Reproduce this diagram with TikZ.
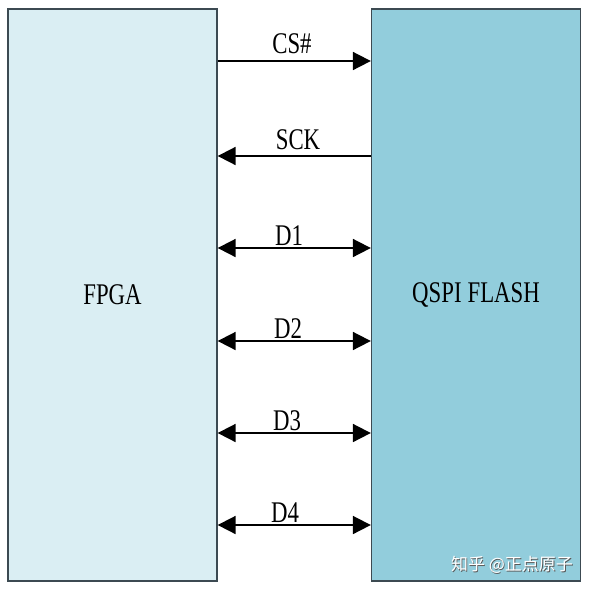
\documentclass[tikz,border=0pt]{standalone}
\usepackage{fontspec}
\setmainfont{Liberation Serif}[FakeStretch=0.76]
\newfontfamily\cjk{Noto Sans CJK SC}
\usetikzlibrary{arrows.meta}
\definecolor{fpgafill}{HTML}{DAEEF3}
\definecolor{flashfill}{HTML}{92CDDC}
\definecolor{edgecol}{HTML}{3C4A52}
\tikzset{
  chip/.style={draw=edgecol, line width=1.3pt, minimum width=209pt, minimum height=572pt, inner sep=0pt, font=\fontsize{30}{32}\selectfont},
  sig/.style={line width=1.8pt, black, >={Triangle[length=18pt,width=18pt]}},
  lbl/.style={anchor=base, inner sep=0pt, font=\fontsize{30}{32}\selectfont}
}
\begin{document}
\begin{tikzpicture}[x=1pt,y=-1pt]
\fill[white] (0,0) rectangle (591,590);
\useasboundingbox (0,0) rectangle (591,590);
\node[chip, fill=fpgafill] (fpga) at (112.5,295) {FPGA};
\node[chip, fill=flashfill] (qspi) at (476,295) {QSPI\hspace{6pt}FLASH};
\coordinate (y1) at (0,61);
\coordinate (y2) at (0,156);
\coordinate (y3) at (0,248);
\coordinate (y4) at (0,341);
\coordinate (y5) at (0,433);
\coordinate (y6) at (0,525);
\draw[sig,->] (fpga.east |- y1) -- (qspi.west |- y1);
\draw[sig,<-] (fpga.east |- y2) -- (qspi.west |- y2);
\draw[sig,<->] (fpga.east |- y3) -- (qspi.west |- y3);
\draw[sig,<->] (fpga.east |- y4) -- (qspi.west |- y4);
\draw[sig,<->] (fpga.east |- y5) -- (qspi.west |- y5);
\draw[sig,<->] (fpga.east |- y6) -- (qspi.west |- y6);
\node[lbl] (l1) at (292,53) {CS\#};
\node[lbl] (l2) at (298,149) {SCK};
\node[lbl] (l3) at (289,245) {D1};
\node[lbl] (l4) at (288,338) {D2};
\node[lbl] (l5) at (287,430) {D3};
\node[lbl] (l6) at (285,522) {D4};
\node[text=gray!70!black, font=\cjk\fontsize{17}{18}\selectfont] (wms) at (512.8,565.8) {知乎 @正点原子};
\node[text=white, font=\cjk\fontsize{17}{18}\selectfont] (wm) at (512,565) {知乎 @正点原子};
\end{tikzpicture}
\end{document}
